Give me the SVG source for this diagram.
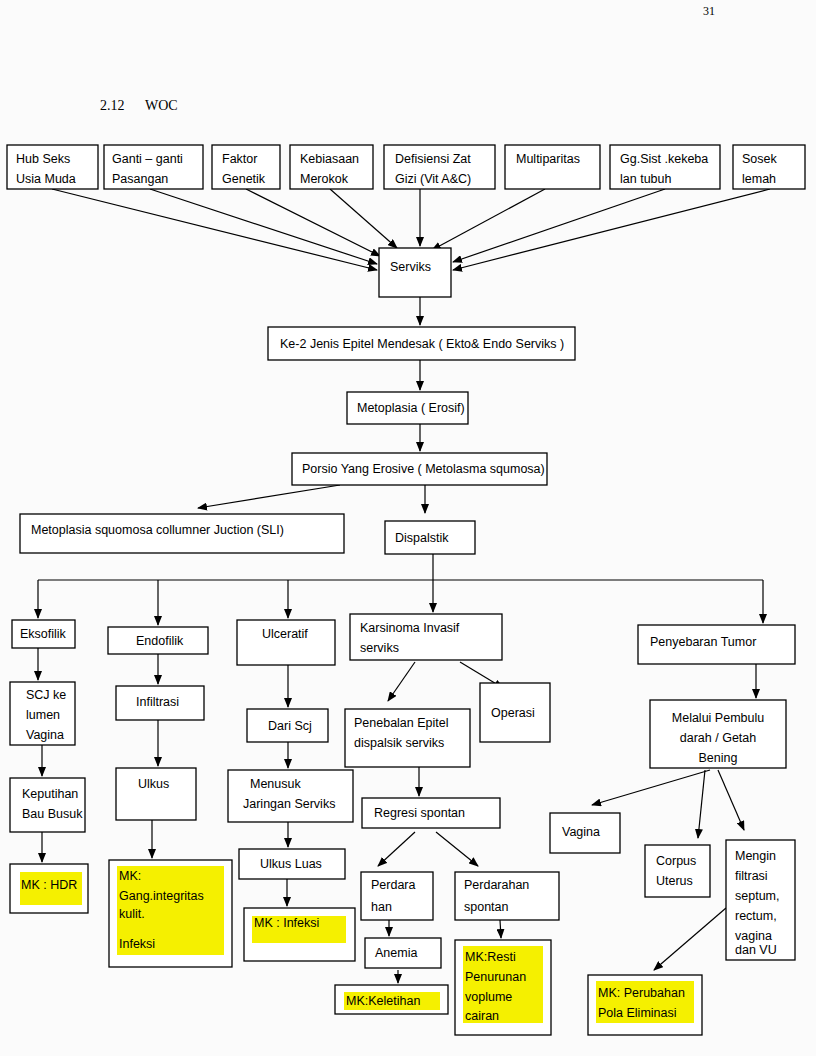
<svg xmlns="http://www.w3.org/2000/svg" width="816" height="1056" viewBox="0 0 816 1056">
<defs><marker id="a" markerWidth="10" markerHeight="8" refX="9" refY="4" orient="auto" markerUnits="userSpaceOnUse"><path d="M0,0 L10,4 L0,8 z" fill="#000"/></marker></defs>
<style>
rect{fill:#fff;stroke:#000;stroke-width:1.3}
rect.y{fill:#f5f000;stroke:none}
text{font-family:"Liberation Sans Narrow","Liberation Sans",Arial,sans-serif;font-size:12.5px;fill:#000}
.s{font-family:"Liberation Serif",serif;font-size:14px}
#c line,#c polyline{stroke:#000;stroke-width:1.2;fill:none}
</style>
<rect x="0" y="0" width="816" height="1056" style="fill:#fbfbfb;stroke:none"/>
<text class="s" x="703" y="15" style="font-size:12px">31</text>
<text class="s" x="100" y="110">2.12</text>
<text class="s" x="145" y="110">WOC</text>
<g id="c">
<line x1="52" y1="189" x2="377" y2="270" marker-end="url(#a)"/>
<line x1="150" y1="189" x2="377" y2="264" marker-end="url(#a)"/>
<line x1="246" y1="189" x2="380" y2="256" marker-end="url(#a)"/>
<line x1="330" y1="189" x2="397" y2="248" marker-end="url(#a)"/>
<line x1="420" y1="189" x2="420" y2="246" marker-end="url(#a)"/>
<line x1="545" y1="189" x2="432" y2="250" marker-end="url(#a)"/>
<line x1="665" y1="189" x2="453" y2="262" marker-end="url(#a)"/>
<line x1="770" y1="189" x2="453" y2="270" marker-end="url(#a)"/>
<line x1="420" y1="297" x2="420" y2="325" marker-end="url(#a)"/>
<line x1="420" y1="360" x2="420" y2="390" marker-end="url(#a)"/>
<line x1="420" y1="424" x2="420" y2="451" marker-end="url(#a)"/>
<line x1="340" y1="485" x2="198" y2="508" marker-end="url(#a)"/>
<line x1="425" y1="485" x2="425" y2="513" marker-end="url(#a)"/>
<line x1="433" y1="554" x2="433" y2="580"/>
<line x1="38" y1="580" x2="763" y2="580"/>
<line x1="38" y1="580" x2="38" y2="618" marker-end="url(#a)"/>
<line x1="158" y1="580" x2="158" y2="625" marker-end="url(#a)"/>
<line x1="288" y1="580" x2="288" y2="618" marker-end="url(#a)"/>
<line x1="433" y1="580" x2="433" y2="612" marker-end="url(#a)"/>
<line x1="763" y1="580" x2="763" y2="623" marker-end="url(#a)"/>
<line x1="38" y1="648" x2="38" y2="680" marker-end="url(#a)"/>
<line x1="42" y1="745" x2="42" y2="776" marker-end="url(#a)"/>
<line x1="42" y1="832" x2="42" y2="862" marker-end="url(#a)"/>
<line x1="158" y1="654" x2="158" y2="684" marker-end="url(#a)"/>
<line x1="158" y1="720" x2="158" y2="766" marker-end="url(#a)"/>
<line x1="152" y1="820" x2="152" y2="858" marker-end="url(#a)"/>
<line x1="288" y1="665" x2="288" y2="707" marker-end="url(#a)"/>
<line x1="288" y1="742" x2="288" y2="768" marker-end="url(#a)"/>
<line x1="288" y1="822" x2="288" y2="847" marker-end="url(#a)"/>
<line x1="287" y1="879" x2="287" y2="906" marker-end="url(#a)"/>
<line x1="415" y1="662" x2="388" y2="701" marker-end="url(#a)"/>
<line x1="460" y1="662" x2="503" y2="688" marker-end="url(#a)"/>
<line x1="419" y1="767" x2="419" y2="796" marker-end="url(#a)"/>
<line x1="415" y1="832" x2="378" y2="866" marker-end="url(#a)"/>
<line x1="436" y1="832" x2="478" y2="866" marker-end="url(#a)"/>
<line x1="389" y1="920" x2="389" y2="936" marker-end="url(#a)"/>
<line x1="398" y1="970" x2="398" y2="983" marker-end="url(#a)"/>
<line x1="500" y1="920" x2="501" y2="938" marker-end="url(#a)"/>
<line x1="756" y1="664" x2="756" y2="698" marker-end="url(#a)"/>
<line x1="710" y1="770" x2="592" y2="805" marker-end="url(#a)"/>
<line x1="705" y1="770" x2="698" y2="838" marker-end="url(#a)"/>
<line x1="718" y1="770" x2="744" y2="830" marker-end="url(#a)"/>
<line x1="726" y1="908" x2="654" y2="970" marker-end="url(#a)"/>
</g>
<g id="n1"><rect x="7" y="145" width="91" height="44"/><text x="16" y="163">Hub Seks</text><text x="16" y="183">Usia Muda</text></g>
<g id="n2"><rect x="104" y="145" width="99" height="44"/><text x="112" y="163">Ganti – ganti</text><text x="112" y="183">Pasangan</text></g>
<g id="n3"><rect x="212" y="145" width="68" height="44"/><text x="222" y="163">Faktor</text><text x="222" y="183">Genetik</text></g>
<g id="n4"><rect x="290" y="145" width="83" height="44"/><text x="300" y="163">Kebiasaan</text><text x="300" y="183">Merokok</text></g>
<g id="n5"><rect x="384" y="145" width="111" height="44"/><text x="395" y="163">Defisiensi  Zat</text><text x="395" y="183">Gizi (Vit A&amp;C)</text></g>
<g id="n6"><rect x="505" y="145" width="95" height="44"/><text x="516" y="163">Multiparitas</text></g>
<g id="n7"><rect x="610" y="145" width="110" height="44"/><text x="620" y="163">Gg.Sist .kekeba</text><text x="620" y="183">lan tubuh</text></g>
<g id="n8"><rect x="733" y="145" width="72" height="44"/><text x="742" y="163">Sosek</text><text x="742" y="183">lemah</text></g>
<g id="serviks"><rect x="379" y="248" width="72" height="49"/><text x="390" y="271">Serviks</text></g>
<g id="epitel"><rect x="268" y="327" width="307" height="33"/><text x="280" y="348">Ke-2 Jenis Epitel Mendesak ( Ekto&amp; Endo Serviks )</text></g>
<g id="metop"><rect x="347" y="392" width="121" height="32"/><text x="357" y="412">Metoplasia ( Erosif)</text></g>
<g id="porsio"><rect x="292" y="453" width="255" height="32"/><text x="302" y="473">Porsio Yang Erosive ( Metolasma squmosa)</text></g>
<g id="sli"><rect x="20" y="514" width="324" height="39"/><text x="31" y="534">Metoplasia squomosa collumner Juction (SLI)</text></g>
<g id="disp"><rect x="385" y="521" width="90" height="33"/><text x="395" y="542">Dispalstik</text></g>
<g id="eks"><rect x="12" y="620" width="63" height="28"/><text x="20" y="638">Eksofilik</text></g>
<g id="endo"><rect x="108" y="627" width="100" height="27"/><text x="136" y="645">Endofilik</text></g>
<g id="ulc"><rect x="237" y="620" width="98" height="45"/><text x="262" y="638">Ulceratif</text></g>
<g id="kars"><rect x="350" y="614" width="152" height="46"/><text x="360" y="632">Karsinoma Invasif</text><text x="360" y="652">serviks</text></g>
<g id="peny"><rect x="638" y="625" width="157" height="39"/><text x="650" y="646">Penyebaran Tumor</text></g>
<g id="scj"><rect x="10" y="682" width="65" height="63"/><text x="26" y="699">SCJ ke</text><text x="26" y="719">lumen</text><text x="26" y="739">Vagina</text></g>
<g id="kep"><rect x="10" y="778" width="75" height="54"/><text x="22" y="798">Keputihan</text><text x="22" y="818">Bau Busuk</text></g>
<g id="hdr"><rect x="10" y="864" width="78" height="49"/><rect class="y" x="20" y="872" width="62" height="33"/><text x="21" y="889">MK : HDR</text></g>
<g id="inf"><rect x="116" y="686" width="88" height="34"/><text x="136" y="706">Infiltrasi</text></g>
<g id="ulkus"><rect x="116" y="768" width="80" height="52"/><text x="138" y="788">Ulkus</text></g>
<g id="gang"><rect x="109" y="860" width="123" height="107"/><rect class="y" x="117" y="866" width="107" height="89"/><text x="119" y="880">MK:</text><text x="119" y="900">Gang.integritas</text><text x="119" y="918">kulit.</text><text x="119" y="948">Infeksi</text></g>
<g id="dari"><rect x="247" y="709" width="81" height="33"/><text x="268" y="730">Dari Scj</text></g>
<g id="men"><rect x="228" y="770" width="125" height="52"/><text x="250" y="788">Menusuk</text><text x="243" y="808">Jaringan Serviks</text></g>
<g id="luas"><rect x="239" y="849" width="106" height="30"/><text x="260" y="868">Ulkus Luas</text></g>
<g id="mkinf"><rect x="244" y="908" width="111" height="53"/><rect class="y" x="252" y="916" width="94" height="27"/><text x="254" y="927">MK : Infeksi</text></g>
<g id="peneb"><rect x="345" y="709" width="125" height="58"/><text x="354" y="727">Penebalan Epitel</text><text x="354" y="747">dispalsik serviks</text></g>
<g id="oper"><rect x="480" y="683" width="70" height="59"/><text x="491" y="717">Operasi</text></g>
<g id="reg"><rect x="362" y="798" width="138" height="30"/><text x="374" y="817">Regresi  spontan</text></g>
<g id="perd"><rect x="361" y="872" width="72" height="48"/><text x="371" y="889">Perdara</text><text x="371" y="911">han</text></g>
<g id="perds"><rect x="455" y="872" width="104" height="48"/><text x="464" y="889">Perdarahan</text><text x="464" y="911">spontan</text></g>
<g id="anem"><rect x="365" y="938" width="76" height="30"/><text x="375" y="957">Anemia</text></g>
<g id="kel"><rect x="335" y="985" width="113" height="29"/><rect class="y" x="344" y="992" width="96" height="18"/><text x="346" y="1005">MK:Keletihan</text></g>
<g id="resti"><rect x="455" y="940" width="96" height="95"/><rect class="y" x="463" y="946" width="80" height="77"/><text x="465" y="961">MK:Resti</text><text x="465" y="981">Penurunan</text><text x="465" y="1001">voplume</text><text x="465" y="1020">cairan</text></g>
<g id="mel"><rect x="650" y="700" width="136" height="68"/><text x="718" y="722" text-anchor="middle">Melalui Pembulu</text><text x="718" y="742" text-anchor="middle">darah / Getah</text><text x="718" y="762" text-anchor="middle">Bening</text></g>
<g id="vag"><rect x="550" y="813" width="70" height="40"/><text x="562" y="836">Vagina</text></g>
<g id="corp"><rect x="645" y="845" width="65" height="52"/><text x="656" y="865">Corpus</text><text x="656" y="885">Uterus</text></g>
<g id="meng"><rect x="726" y="840" width="69" height="120"/><text x="735" y="860">Mengin</text><text x="735" y="880">filtrasi</text><text x="735" y="900">septum,</text><text x="735" y="920">rectum,</text><text x="735" y="940">vagina</text><text x="735" y="954">dan VU</text></g>
<g id="pola"><rect x="588" y="975" width="114" height="60"/><rect class="y" x="596" y="981" width="98" height="42"/><text x="598" y="997">MK: Perubahan</text><text x="598" y="1017">Pola Eliminasi</text></g>
</svg>
